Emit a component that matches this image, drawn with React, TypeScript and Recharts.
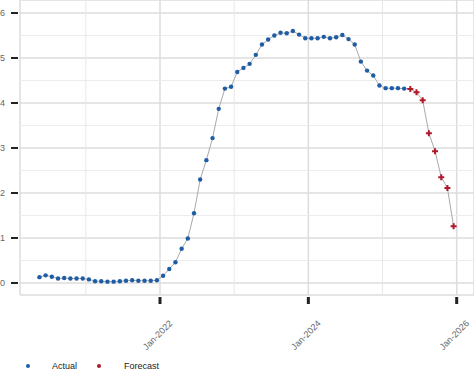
import {
  LineChart,
  Line,
  XAxis,
  YAxis,
  CartesianGrid,
  ReferenceLine,
  Legend,
  Symbols,
} from "recharts";

const months = [
  "2020-05", "2020-06", "2020-07", "2020-08", "2020-09", "2020-10", "2020-11", "2020-12",
  "2021-01", "2021-02", "2021-03", "2021-04", "2021-05", "2021-06", "2021-07", "2021-08", "2021-09", "2021-10", "2021-11", "2021-12",
  "2022-01", "2022-02", "2022-03", "2022-04", "2022-05", "2022-06", "2022-07", "2022-08", "2022-09", "2022-10", "2022-11", "2022-12",
  "2023-01", "2023-02", "2023-03", "2023-04", "2023-05", "2023-06", "2023-07", "2023-08", "2023-09", "2023-10", "2023-11", "2023-12",
  "2024-01", "2024-02", "2024-03", "2024-04", "2024-05", "2024-06", "2024-07", "2024-08", "2024-09", "2024-10", "2024-11", "2024-12",
  "2025-01", "2025-02", "2025-03", "2025-04", "2025-05", "2025-06", "2025-07", "2025-08", "2025-09", "2025-10", "2025-11", "2025-12",
];

const actual = [
  0.13, 0.17, 0.14, 0.10, 0.11, 0.10, 0.10, 0.10,
  0.08, 0.04, 0.04, 0.03, 0.03, 0.04, 0.05, 0.06, 0.05, 0.05, 0.05, 0.06,
  0.16, 0.31, 0.46, 0.76, 0.99, 1.55, 2.30, 2.73, 3.22, 3.87, 4.32, 4.36,
  4.69, 4.78, 4.87, 5.07, 5.30, 5.41, 5.50, 5.56, 5.55, 5.60, 5.52, 5.44,
  5.44, 5.44, 5.47, 5.44, 5.46, 5.51, 5.42, 5.30, 4.92, 4.72, 4.61, 4.39,
  4.33, 4.33, 4.33, 4.32,
];

const forecast = [4.31, 4.24, 4.06, 3.33, 2.93, 2.35, 2.11, 1.26];

const xTicks = ["2022-01", "2024-01", "2026-01"];
const xTickLabels = ["Jan-2022", "Jan-2024", "Jan-2026"];
const xMinorTicks = ["2021-01", "2023-01", "2025-01"];
const yTicks = [0, 1, 2, 3, 4, 5, 6];
const yMinorTicks = [0.5, 1.5, 2.5, 3.5, 4.5, 5.5];

const BLUE = "#1f5ca6";
const RED = "#b0182c";
const FONT = "'Liberation Sans', Arial, sans-serif";

// months since Jan 2020
const toT = (m: string) => {
  const [y, mo] = m.split("-").map(Number);
  return (y - 2020) * 12 + (mo - 1);
};

const combined = [...actual, ...forecast];
const data = months.map((m, i) => ({
  t: toT(m) + 0.5,
  value: combined[i],
  actual: i < actual.length ? actual[i] : null,
  forecast: i >= actual.length ? forecast[i - actual.length] : null,
}));

const YTick = ({ x, y, payload }: any) => (
  <g>
    <rect x={x - 9} y={y - 1} width={7} height={2} fill="#222" />
    <text x={x - 15} y={y} dy={3} textAnchor="end" fontSize={9} fill="#666" fontFamily={FONT}>
      {payload.value}
    </text>
  </g>
);

const XTick = ({ x, y, payload }: any) => {
  const idx = xTicks.findIndex((m) => toT(m) === payload.value);
  const ax = x + 13;
  const ay = y + 29;
  return (
    <g>
      <rect x={x - 1.5} y={y + 2} width={3} height={7} fill="#222" />
      <text
        x={ax}
        y={ay}
        textAnchor="end"
        fontSize={9}
        fill="#666"
        fontFamily={FONT}
        transform={`rotate(-45, ${ax}, ${ay})`}
      >
        {xTickLabels[idx]}
      </text>
    </g>
  );
};

const ForecastDot = (props: any) => {
  const { cx, cy, index } = props;
  if (cy == null) return <g key={`f-${index}`} />;
  return <Symbols key={`f-${index}`} cx={cx} cy={cy} type="cross" size={20} fill={RED} />;
};

const renderLegend = () => (
  <div style={{ position: "relative", height: 16, fontFamily: FONT, fontSize: 9, color: "#222" }}>
    <span style={{ position: "absolute", left: 26, top: 6, width: 4, height: 4, borderRadius: 2, background: BLUE }} />
    <span style={{ position: "absolute", left: 52, top: 0, lineHeight: "16px" }}>Actual</span>
    <span style={{ position: "absolute", left: 97, top: 6, width: 4, height: 4, borderRadius: 2, background: RED }} />
    <span style={{ position: "absolute", left: 124, top: 0, lineHeight: "16px" }}>Forecast</span>
  </div>
);

export default function App() {
  return (
    <div style={{ position: "absolute", left: 0, top: 0, background: "#fff" }}>
      <LineChart width={474} height={390} data={data} margin={{ top: 0, right: 0, left: 0, bottom: 16 }}>
        <CartesianGrid stroke="#dcdcdc" strokeWidth={1.5} />
        {yMinorTicks.map((v) => (
          <ReferenceLine key={`hy-${v}`} y={v} stroke="#ececec" strokeWidth={1} />
        ))}
        {xMinorTicks.map((m) => (
          <ReferenceLine key={`vx-${m}`} x={toT(m)} stroke="#e8e8e8" strokeWidth={1} />
        ))}
        <XAxis
          type="number"
          dataKey="t"
          domain={[1.35, 74.8]}
          allowDataOverflow
          ticks={xTicks.map(toT)}
          axisLine={false}
          tickLine={false}
          tickSize={0}
          tickMargin={0}
          height={63}
          interval={0}
          tick={<XTick />}
        />
        <YAxis
          type="number"
          domain={[-0.267, 6.289]}
          allowDataOverflow
          ticks={yTicks}
          axisLine={false}
          tickLine={false}
          tickSize={0}
          tickMargin={0}
          width={20}
          interval={0}
          tick={<YTick />}
        />
        <Line
          type="linear"
          dataKey="value"
          stroke="#a9a9a9"
          strokeWidth={1}
          dot={false}
          activeDot={false}
          legendType="none"
          isAnimationActive={false}
        />
        <Line
          type="linear"
          dataKey="actual"
          name="Actual"
          stroke="none"
          dot={{ r: 2.2, fill: BLUE, stroke: "none" }}
          activeDot={false}
          isAnimationActive={false}
        />
        <Line
          type="linear"
          dataKey="forecast"
          name="Forecast"
          stroke="none"
          dot={ForecastDot}
          activeDot={false}
          isAnimationActive={false}
        />
        <Legend verticalAlign="bottom" align="left" content={renderLegend} wrapperStyle={{ left: 0 }} />
      </LineChart>
    </div>
  );
}
